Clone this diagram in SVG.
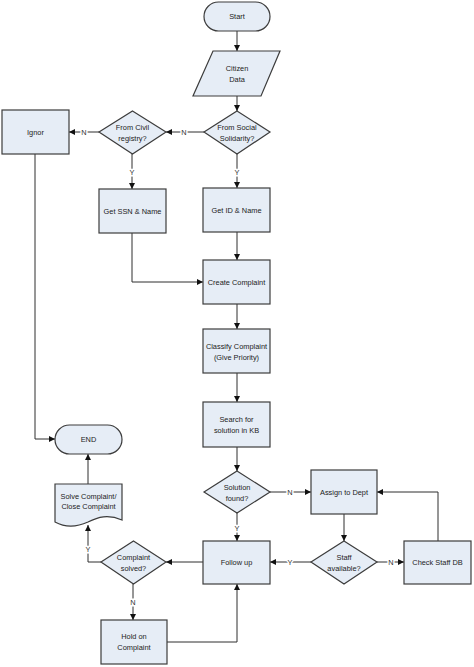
<svg xmlns="http://www.w3.org/2000/svg" width="474" height="667" viewBox="0 0 474 667">
<style>
.shape{fill:#e6edf6;stroke:#3c3c3c;stroke-width:1.2}
.edge{fill:none;stroke:#2e2e2e;stroke-width:1;marker-end:url(#arr)}
text{font-family:"Liberation Sans",Arial,sans-serif;font-size:7.4px;fill:#222;text-anchor:middle;dominant-baseline:central}
.lbl{stroke:#fff;stroke-width:3;paint-order:stroke;fill:#333}
</style>
<defs>
<marker id="arr" markerWidth="6" markerHeight="6" refX="6" refY="3" orient="auto" markerUnits="userSpaceOnUse">
<path d="M0,0 L6,3 L0,6 z" fill="#111"/>
</marker>
</defs>
<rect width="474" height="667" fill="#fff"/>
<g id="edges">
<path class="edge" d="M237,31 V51"/>
<path class="edge" d="M237,96 V111"/>
<path class="edge" d="M204,132 H166"/>
<path class="edge" d="M99,132 H69"/>
<path class="edge" d="M35,154 V439 H55"/>
<path class="edge" d="M132,154 V189"/>
<path class="edge" d="M237,154 V188"/>
<path class="edge" d="M237,232 V260"/>
<path class="edge" d="M132,233 V282 H203"/>
<path class="edge" d="M237,304 V329"/>
<path class="edge" d="M237,373 V402"/>
<path class="edge" d="M237,447 V471"/>
<path class="edge" d="M270,492 H311"/>
<path class="edge" d="M344,514 V541"/>
<path class="edge" d="M377,562 H404"/>
<path class="edge" d="M438,541 V492 H377"/>
<path class="edge" d="M311,562 H270"/>
<path class="edge" d="M237,513 V541"/>
<path class="edge" d="M203,562 H166"/>
<path class="edge" d="M101,562 H88 V525"/>
<path class="edge" d="M88,484 V454"/>
<path class="edge" d="M133,584 V620"/>
<path class="edge" d="M167,642 H237 V584"/>
<text class="lbl" x="184" y="132">N</text>
<text class="lbl" x="84" y="132">N</text>
<text class="lbl" x="132" y="172">Y</text>
<text class="lbl" x="237" y="172">Y</text>
<text class="lbl" x="290" y="492">N</text>
<text class="lbl" x="391" y="562">N</text>
<text class="lbl" x="290" y="562">Y</text>
<text class="lbl" x="237" y="528">Y</text>
<text class="lbl" x="88" y="549">Y</text>
<text class="lbl" x="133" y="602">N</text>
</g>
<g id="start"><rect class="shape" x="204" y="2" width="66" height="29" rx="14.5"/><text x="237" y="16.5">Start</text></g>
<g id="citizen"><polygon class="shape" points="213,51 280,51 261,96 193,96"/><text x="237" y="68">Citizen</text><text x="237" y="79">Data</text></g>
<g id="social"><polygon class="shape" points="237,111 270,132 237,154 204,132"/><text x="237" y="127">From Social</text><text x="237" y="138">Solidarity?</text></g>
<g id="civil"><polygon class="shape" points="132.5,111 166,132 132.5,154 99,132"/><text x="132.5" y="127">From Civil</text><text x="132.5" y="138">registry?</text></g>
<g id="ignor"><rect class="shape" x="2" y="110" width="67" height="44"/><text x="35.5" y="132">Ignor</text></g>
<g id="getssn"><rect class="shape" x="99" y="189" width="67" height="44"/><text x="132.5" y="211">Get SSN &amp; Name</text></g>
<g id="getid"><rect class="shape" x="203" y="188" width="67" height="44"/><text x="236.5" y="210">Get ID &amp; Name</text></g>
<g id="create"><rect class="shape" x="203" y="260" width="67" height="44"/><text x="236.5" y="282">Create Complaint</text></g>
<g id="classify"><rect class="shape" x="203" y="329" width="67" height="44"/><text x="236.5" y="346">Classify Complaint</text><text x="236.5" y="357">(Give Priority)</text></g>
<g id="search"><rect class="shape" x="203" y="402" width="67" height="45"/><text x="236.5" y="419">Search for</text><text x="236.5" y="430">solution in KB</text></g>
<g id="end"><rect class="shape" x="55" y="425" width="67" height="29" rx="14.5"/><text x="88.5" y="439.5">END</text></g>
<g id="solution"><polygon class="shape" points="237,471 270,492 237,513 204,492"/><text x="237" y="487">Solution</text><text x="237" y="498">found?</text></g>
<g id="assign"><rect class="shape" x="311" y="470" width="66" height="44"/><text x="344" y="492">Assign to Dept</text></g>
<g id="solve"><path class="shape" d="M55,484 H122 V520 C108,514 98,517 88,522 C77,527 66,528 55,522 Z"/><text x="88.5" y="496">Solve Complaint/</text><text x="88.5" y="506">Close Complaint</text></g>
<g id="staff"><polygon class="shape" points="344,541 377,562 344,584 311,562"/><text x="344" y="557">Staff</text><text x="344" y="568">available?</text></g>
<g id="checkdb"><rect class="shape" x="404" y="541" width="67" height="43"/><text x="437.5" y="562">Check Staff DB</text></g>
<g id="followup"><rect class="shape" x="203" y="541" width="67" height="43"/><text x="236.5" y="562">Follow up</text></g>
<g id="solved"><polygon class="shape" points="133.5,541 166,562 133.5,584 101,562"/><text x="133.5" y="557">Complaint</text><text x="133.5" y="568">solved?</text></g>
<g id="hold"><rect class="shape" x="101" y="620" width="66" height="44"/><text x="134" y="636">Hold on</text><text x="134" y="647">Complaint</text></g>
</svg>
